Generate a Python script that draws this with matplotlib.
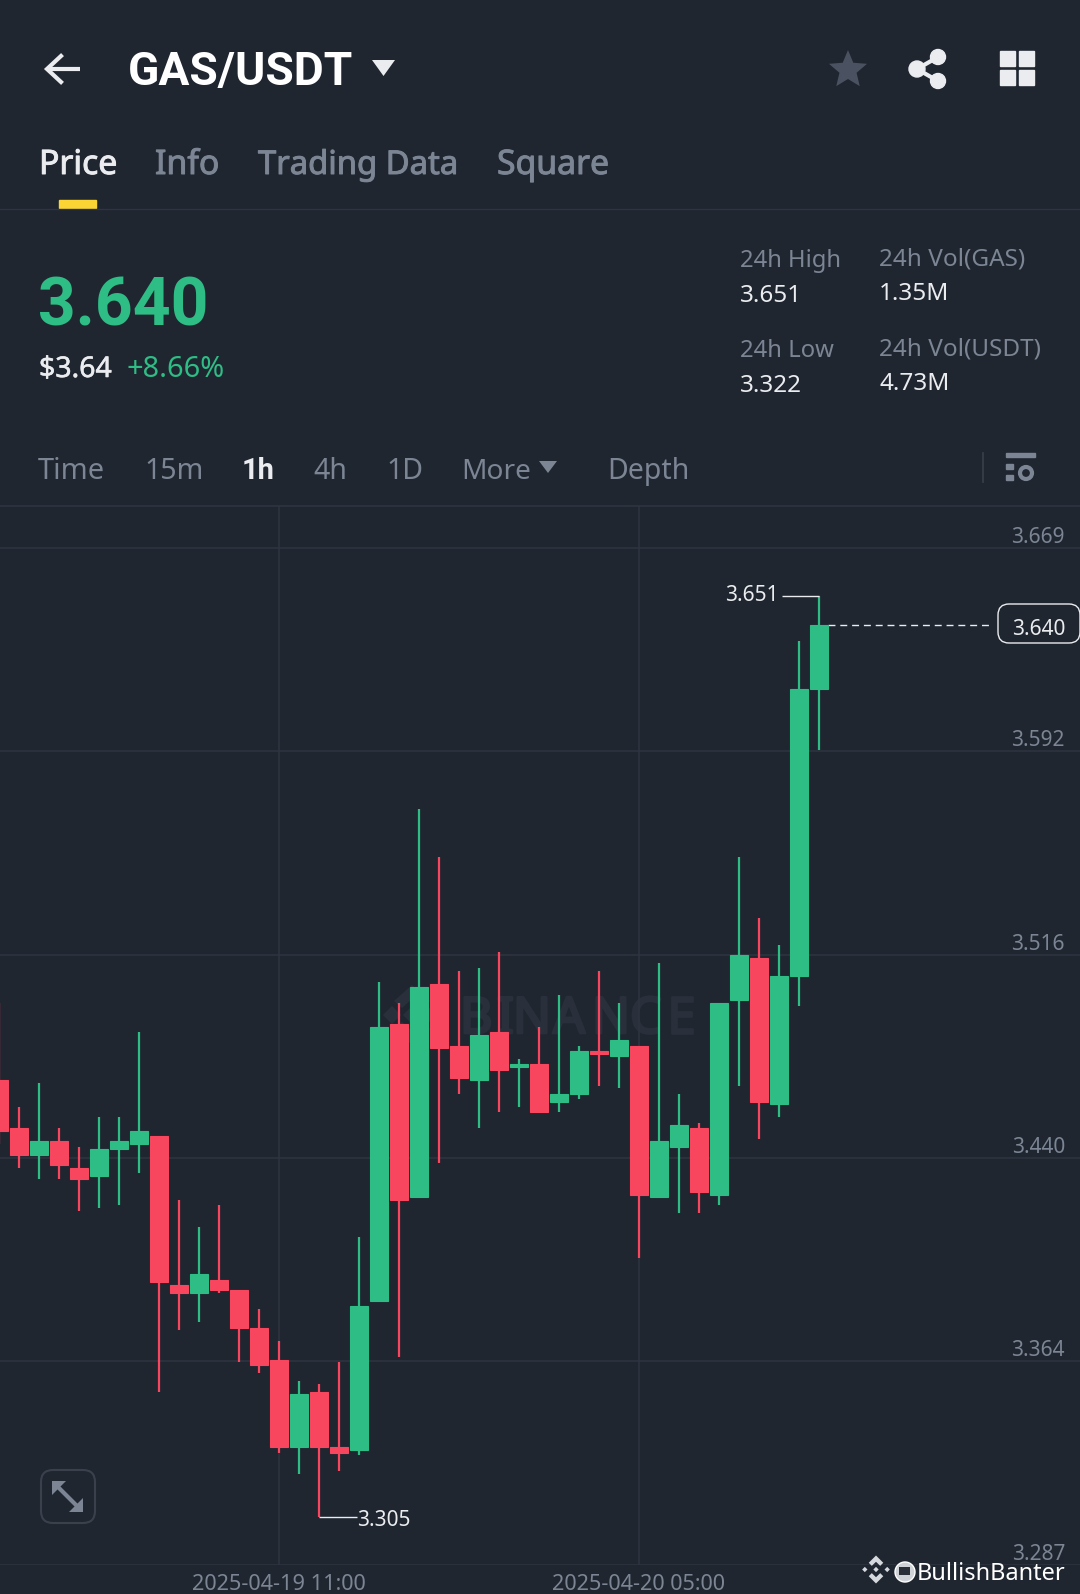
import matplotlib
matplotlib.use('Agg')
import matplotlib.pyplot as plt
from matplotlib.patches import Circle, FancyBboxPatch, Polygon, Rectangle
import matplotlib.patheffects as pe
import numpy as np

# hourly candles, first one is cut off by the left edge
opens = [3.469, 3.451, 3.441, 3.446, 3.436, 3.433, 3.443, 3.445, 3.448, 3.392, 3.389,
         3.394, 3.390, 3.376, 3.364, 3.331, 3.352, 3.331, 3.330, 3.386, 3.490, 3.425,
         3.505, 3.482, 3.469, 3.487, 3.474, 3.475, 3.461, 3.464, 3.480, 3.478, 3.482,
         3.425, 3.444, 3.451, 3.426, 3.499, 3.515, 3.460, 3.508, 3.616]
closes = [3.450, 3.441, 3.446, 3.437, 3.432, 3.443, 3.446, 3.450, 3.393, 3.389, 3.396,
          3.390, 3.376, 3.362, 3.331, 3.351, 3.331, 3.329, 3.384, 3.489, 3.424, 3.504,
          3.481, 3.470, 3.486, 3.473, 3.475, 3.457, 3.464, 3.480, 3.479, 3.484, 3.426,
          3.446, 3.452, 3.427, 3.498, 3.516, 3.461, 3.508, 3.616, 3.640]
highs = [3.498, 3.459, 3.468, 3.451, 3.444, 3.455, 3.455, 3.487, 3.448, 3.424, 3.414,
         3.422, 3.390, 3.383, 3.371, 3.356, 3.355, 3.363, 3.410, 3.506, 3.498, 3.571,
         3.553, 3.510, 3.511, 3.517, 3.477, 3.489, 3.501, 3.482, 3.510, 3.498, 3.482,
         3.513, 3.464, 3.453, 3.498, 3.553, 3.530, 3.520, 3.634, 3.651]
lows = [3.445, 3.436, 3.432, 3.432, 3.420, 3.421, 3.422, 3.434, 3.352, 3.375, 3.378,
        3.389, 3.363, 3.359, 3.329, 3.321, 3.305, 3.322, 3.328, 3.386, 3.365, 3.425,
        3.438, 3.464, 3.451, 3.457, 3.459, 3.457, 3.457, 3.462, 3.467, 3.466, 3.402,
        3.425, 3.419, 3.419, 3.422, 3.467, 3.447, 3.455, 3.497, 3.593]
price_ticks = [3.669, 3.5927, 3.516, 3.4397, 3.3634, 3.287]
price_labels = ['3.669', '3.592', '3.516', '3.440', '3.364', '3.287']
date_ticks = [14, 32]
date_labels = ['2025-04-19 11:00', '2025-04-20 05:00']
last_price = 3.640
day_high = 3.651
day_low = 3.305

BG = '#1f2630'
GRID = '#2e3540'
GREEN = '#2ebd85'
RED = '#f9465f'
DIM = '#7c8594'
WHITE = '#eaecef'
WM = '#2a303b'
W, H = 1080, 1594

plt.rcParams['font.family'] = ['Noto Sans', 'DejaVu Sans']

fig = plt.figure(figsize=(W / 100, H / 100), dpi=100, facecolor=BG)


def pixel_layer(z):
    layer = fig.add_axes([0, 0, 1, 1], zorder=z)
    layer.set_xlim(0, W)
    layer.set_ylim(H, 0)
    layer.axis('off')
    layer.patch.set_alpha(0)
    return layer


# watermark goes under the candles
back = pixel_layer(0)
for x, s in zip([460, 497, 513, 553, 592, 630, 667], 'BINANCE'):
    back.text(x, 1033, s, color=WM, fontsize=36, ha='left', va='baseline',
              path_effects=[pe.withStroke(linewidth=2, foreground=WM)])
for cx, r in [(412, 9), (392, 9), (432, 9)]:
    back.add_patch(Polygon([(cx - r, 1015), (cx, 1015 - r), (cx + r, 1015), (cx, 1015 + r)], facecolor=WM, edgecolor='none'))
for sy in (-1, 1):
    back.add_patch(Polygon([(412, 1015 + sy * 30), (430, 1015 + sy * 14), (422, 1015 + sy * 7), (412, 1015 + sy * 16),
                            (402, 1015 + sy * 7), (394, 1015 + sy * 14)], facecolor=WM, edgecolor='none'))

# chart area, y from 506 to 1564 px in the picture
ax = fig.add_axes([0, 1 - 1564.5 / H, 1, (1564.5 - 506) / H], zorder=1)
ax.patch.set_alpha(0)
ax.set_xlim(0.05, 54.05)
ax.set_ylim(3.287, 3.6848)
for s in ax.spines.values():
    s.set_visible(False)
ax.set_yticks(price_ticks)
ax.set_yticklabels([])
ax.set_xticks(date_ticks)
ax.set_xticklabels(date_labels, fontsize=15.6, color=DIM)
ax.tick_params(length=0, pad=7)
ax.grid(True, color=GRID, linewidth=1.1)
ax.set_axisbelow(True)

xs = np.arange(len(opens))
colors = [GREEN if c >= o else RED for o, c in zip(opens, closes)]
ax.vlines(xs, lows, highs, color=colors, linewidth=1.6, zorder=3)
ax.bar(xs, np.array(closes) - np.array(opens), bottom=opens, width=0.88, color=colors,
       linewidth=0.8, edgecolor=colors, zorder=4)

ax.hlines(last_price, 41.45, 49.7, color=WHITE, linewidth=1, linestyles=(0, (5, 3.5)), zorder=2)
ax.hlines(day_high, 39.13, 41, color=WHITE, linewidth=1, zorder=5)
ax.hlines(day_low, 16, 17.9, color=WHITE, linewidth=1, zorder=5)
ax.text(36.3, day_high, '%.3f' % day_high, color=WHITE, fontsize=15, ha='left', va='center')
ax.annotate('%.3f' % day_low, (17.9, day_low), xytext=(0, -2.5), textcoords='offset points',
            color=WHITE, fontsize=15, ha='left', va='center')

trans = ax.get_yaxis_transform()
for p, s in zip(price_ticks, price_labels):
    ax.annotate(s, (1065 / W, p), xycoords=trans, xytext=(0, 3.5), textcoords='offset points',
                ha='right', va='baseline', color=DIM, fontsize=15)

# everything else is drawn on a pixel layer over the chart
ui = pixel_layer(2)


def label(x, y, s, size, color=DIM, stroke=0):
    effects = [pe.withStroke(linewidth=stroke, foreground=color)] if stroke else None
    ui.text(x, y, s, fontsize=size, color=color, ha='left', va='baseline', path_effects=effects)


def strong(x, y, s, size, color):
    ui.text(x, y, s, fontsize=size, color=color, family='Roboto', fontweight='bold', ha='left', va='baseline')


def poly(pts, color, z=2):
    ui.add_patch(Polygon(pts, closed=True, facecolor=color, edgecolor='none', zorder=z))


def binance_logo(cx, cy, r, color, z=2):
    # center diamond, side diamonds, top and bottom chevrons
    d = r * 0.19
    for dx in (0, -r * 0.8, r * 0.8):
        poly([(cx + dx - d, cy), (cx + dx, cy - d), (cx + dx + d, cy), (cx + dx, cy + d)], color, z)
    for sy in (-1, 1):
        poly([(cx, cy + sy * r), (cx + r * 0.52, cy + sy * r * 0.48), (cx + r * 0.3, cy + sy * r * 0.26),
              (cx, cy + sy * r * 0.55), (cx - r * 0.3, cy + sy * r * 0.26), (cx - r * 0.52, cy + sy * r * 0.48)], color, z)


# top bar
ui.plot([47, 80], [69, 69], color=WHITE, linewidth=3, solid_capstyle='butt')
ui.plot([61, 47, 61], [56, 69, 82], color=WHITE, linewidth=3, solid_joinstyle='miter')
strong(128, 85, 'GAS/USDT', 33.2, 'white')
poly([(372, 60), (395, 60), (383.5, 76)], WHITE)
star = [(848 + (20 if i % 2 == 0 else 9) * np.sin(i * np.pi / 5),
         70 - (20 if i % 2 == 0 else 9) * np.cos(i * np.pi / 5)) for i in range(10)]
poly(star, '#4a5160')
ui.plot([938, 917, 938], [57, 69, 81], color=WHITE, linewidth=3)
for cx, cy, r in [(938, 57, 7.5), (917, 69, 8), (938, 81, 7.5)]:
    ui.add_patch(Circle((cx, cy), r, color=WHITE))
for gx in (1000, 1019):
    for gy in (51, 70):
        ui.add_patch(Rectangle((gx, gy), 15, 15, color=WHITE))

# tabs
label(39, 174, 'Price', 24.3, WHITE, 0.7)
label(155, 174, 'Info', 24.3, DIM, 0.7)
label(258, 174, 'Trading Data', 23.6, DIM, 0.7)
label(497, 174, 'Square', 24.3, DIM, 0.7)
ui.add_patch(Rectangle((59, 200), 37, 7.5, color='#fcd535'))
ui.plot([0, W], [208.5, 208.5], color=GRID, linewidth=1)

# price block
strong(38, 325, '3.640', 47.5, GREEN)
label(39, 377, '$3.64', 20.5, WHITE, 0.4)
label(126, 377, '+8.66%', 20.8, GREEN)
label(740, 267, '24h High', 17.1)
label(740, 302, '3.651', 17.5, WHITE)
label(740, 357, '24h Low', 17.2)
label(740, 392, '3.322', 17.5, WHITE)
label(879, 265, '24h Vol(GAS)', 17.5)
label(879, 300, '1.35M', 17.5, WHITE)
label(879, 355, '24h Vol(USDT)', 17.5)
label(879, 390, '4.73M', 17.5, WHITE)

# interval row
label(38, 479, 'Time', 20.8)
label(144, 479, '15m', 20.5)
strong(242, 479, '1h', 21, WHITE)
label(313, 479, '4h', 20.5)
label(386, 479, '1D', 20.5)
label(461, 479, 'More', 20.2)
poly([(539, 461), (557, 461), (548, 473)], DIM)
label(607, 479, 'Depth', 20.5)
ui.plot([983, 983], [453, 482], color='#39404c', linewidth=1.2)
ui.add_patch(Rectangle((1006, 453), 29, 4, color=DIM))
ui.add_patch(Rectangle((1006, 464), 7, 5, color=DIM))
ui.add_patch(Rectangle((1006, 475), 7, 5, color=DIM))
ui.add_patch(Circle((1026, 473), 6, facecolor=BG, edgecolor=DIM, linewidth=3))
ui.plot([0, W], [506, 506], color=GRID, linewidth=1.2)

# current price tag
ui.add_patch(FancyBboxPatch((1006, 612), 66, 23, boxstyle='round,pad=8,rounding_size=11',
                            facecolor=BG, edgecolor=WHITE, linewidth=1, zorder=3))
ui.text(1065, 635, '%.3f' % last_price, color=WHITE, fontsize=15, ha='right', va='baseline', zorder=4)

# expand button
ui.add_patch(FancyBboxPatch((49, 1478), 38, 37, boxstyle='round,pad=8,rounding_size=12',
                            facecolor='none', edgecolor='#3a414d', linewidth=1.5))
ui.plot([56, 79], [1485, 1508], color=DIM, linewidth=3)
poly([(52, 1481), (66, 1481), (52, 1495)], DIM)
poly([(83, 1512), (69, 1512), (83, 1498)], DIM)

# footer watermark
binance_logo(876, 1569.5, 14, '#d5d8dc', 6)
ui.add_patch(Circle((905, 1572), 10, facecolor='#cfd2d6', edgecolor='white', linewidth=1, zorder=6))
ui.add_patch(Rectangle((899, 1567), 11, 8, facecolor='#2a2f38', edgecolor='none', zorder=7))
ui.text(917, 1580, 'BullishBanter', color='white', fontsize=17, ha='left', va='baseline', zorder=7)

fig.savefig('out.png', dpi=100, facecolor=BG)
